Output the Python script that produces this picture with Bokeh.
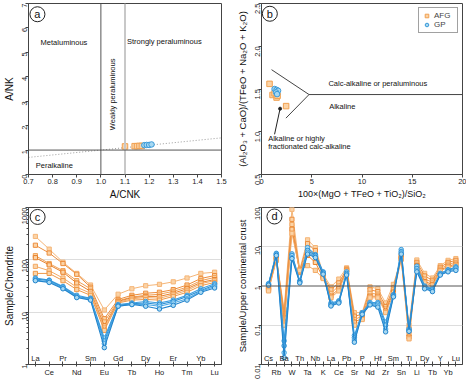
import math
from bokeh.plotting import figure
from bokeh.layouts import row, column
from bokeh.models import FixedTicker, Span, Range1d
from bokeh.core.properties import value
from bokeh.embed import file_html
from bokeh.resources import INLINE

FONT = "Liberation Sans"
AXC = "#444444"

# ---------------- data ----------------
# panel a : A/CNK vs A/NK
a_afg_x = [1.10, 1.14, 1.15, 1.16, 1.17]
a_afg_y = [1.15, 1.16, 1.16, 1.17, 1.17]
a_gp_x = [1.18, 1.19, 1.20, 1.21]
a_gp_y = [1.20, 1.21, 1.21, 1.23]
a_ref_x = [0.7, 1.5]          # A/NK = A/CNK
a_ref_y = [0.7, 1.5]

# panel b
b_afg_x = [0.8, 1.1, 1.3, 1.5, 1.6, 2.45]
b_afg_y = [1.56, 1.43, 1.45, 1.40, 1.42, 1.30]
b_gp_x = [1.3, 1.5, 1.65, 1.45, 1.55]
b_gp_y = [1.50, 1.49, 1.48, 1.46, 1.44]
b_bound_x = [1.0, 4.73, 2.43]
b_bound_y = [1.726, 1.435, 1.159]
b_hline_x = [4.73, 20.0]
b_hline_y = [1.435, 1.435]
b_arrow_x = [1.3, 1.85]
b_arrow_y = [0.97, 1.27]

# panel c : chondrite-normalised REE
ree = ["La", "Ce", "Pr", "Nd", "Sm", "Eu", "Gd", "Tb", "Dy", "Ho", "Er", "Tm", "Yb", "Lu"]
c_afg = [
    [280, 160, 90, 55, 33, 11, 22, 28, 32, 34, 38, 45, 55, 58],
    [190, 135, 85, 53, 30, 7.5, 17.5, 21, 23, 24, 27, 33, 44, 50],
    [120, 85, 62, 40, 28, 6.5, 16.5, 19.5, 21, 22, 25, 30, 40, 46],
    [110, 80, 58, 36, 25, 5.5, 16, 19, 20, 20, 23, 28, 37, 42],
    [75, 62, 45, 30, 23, 5.0, 15.5, 18, 19, 18.5, 21.5, 26, 35, 40],
    [55, 55, 40, 27, 21, 4.5, 15, 17, 17.5, 17, 20, 24, 32, 37],
]
c_gp = [
    [45, 41, 31, 21, 18.5, 3.2, 14, 15, 16, 15, 17, 21, 28, 35],
    [43, 40, 30, 20, 18, 2.8, 13.5, 14.5, 15, 14, 16, 20, 26, 33],
    [41, 38, 29, 19.5, 17.5, 2.5, 13, 14, 14, 13, 15, 18, 25, 31],
    [40, 37, 28, 19, 17, 2.1, 13, 14, 13, 11.5, 13.5, 17, 24, 29],
]

# panel d : upper-continental-crust normalised spider
elem = ["Cs", "Rb", "Ba", "W", "Th", "Ta", "Nb", "K", "La", "Ce", "Pb", "Sr", "P",
        "Nd", "Hf", "Zr", "Sm", "Sn", "Ti", "Li", "Dy", "Tb", "Y", "Yb", "Lu"]
d_afg = [
    [0.95, 5.0, 0.25, 90, 2.6, 15, 9.5, 2.0, 0.95, 1.5, 2.9, 0.21, 0.21, 0.95, 0.85, 0.37, 1.1, 5.0, 0.10, 4.6, 2.1, 1.6, 3.3, 4.5, 5.0],
    [0.90, 5.5, 0.20, 50, 2.4, 12, 8.0, 1.8, 0.80, 1.2, 2.7, 0.17, 0.19, 0.80, 0.72, 0.30, 0.9, 5.5, 0.08, 4.0, 1.8, 1.4, 3.0, 4.0, 4.5],
    [0.85, 5.2, 0.15, 37, 2.2, 9.0, 6.0, 1.7, 0.65, 1.0, 2.6, 0.14, 0.17, 0.65, 0.62, 0.26, 0.8, 6.0, 0.06, 3.6, 1.5, 1.25, 2.7, 3.6, 4.0],
    [0.80, 4.8, 0.12, 28, 2.3, 6.0, 4.0, 1.6, 0.55, 0.85, 2.5, 0.12, 0.15, 0.55, 0.55, 0.23, 0.7, 5.0, 0.05, 3.3, 1.3, 1.1, 2.5, 3.2, 3.6],
    [0.75, 4.5, 0.10, 22, 2.5, 3.3, 2.5, 1.55, 0.50, 0.75, 2.4, 0.10, 0.14, 0.50, 0.50, 0.21, 0.6, 4.8, 0.045, 3.0, 1.2, 1.0, 2.4, 3.0, 3.3],
]
d_gp = [
    [1.15, 6.8, 0.040, 6.6, 1.35, 9.5, 6.3, 2.3, 0.37, 0.42, 2.3, 0.055, 0.21, 0.38, 0.38, 0.12, 0.60, 8.5, 0.080, 3.2, 1.00, 0.85, 2.1, 2.6, 3.1],
    [1.10, 6.5, 0.030, 6.0, 1.30, 8.0, 6.0, 2.2, 0.34, 0.40, 2.1, 0.048, 0.20, 0.35, 0.35, 0.10, 0.58, 7.5, 0.075, 2.8, 0.95, 0.80, 2.0, 2.5, 2.9],
    [1.10, 6.3, 0.020, 5.3, 1.25, 7.2, 5.6, 2.1, 0.32, 0.38, 2.0, 0.042, 0.19, 0.34, 0.32, 0.08, 0.55, 7.0, 0.072, 2.5, 0.90, 0.75, 1.95, 2.4, 2.7],
    [1.05, 6.0, 0.015, 5.0, 1.20, 6.5, 5.3, 2.0, 0.31, 0.37, 1.9, 0.037, 0.19, 0.33, 0.29, 0.068, 0.53, 6.5, 0.070, 2.3, 0.85, 0.72, 1.9, 2.3, 2.5],
]

ORANGE_LINES = ["#f5b577", "#ec8d3c", "#f0a055", "#e8812a", "#f3aa66", "#ee9848"]
BLUE_LINES = ["#3d9ee0", "#2b8fd4", "#4aa8e6", "#2284cc"]
O_FILL, O_EDGE = "#fbd3a6", "#f0a050"
B_FILL, B_EDGE = "#a6d8f2", "#3a9ad9"


def style(p, xlabel, ylabel):
    p.outline_line_color = AXC
    p.outline_line_width = 1
    p.xaxis.axis_label = xlabel
    p.yaxis.axis_label = ylabel
    for ax in p.axis:
        ax.axis_line_color = AXC
        ax.major_tick_line_color = AXC
        ax.minor_tick_line_color = None
        ax.major_tick_in = 0
        ax.major_tick_out = 3
        ax.major_label_standoff = 1
        ax.axis_label_standoff = 2
        ax.major_label_text_font = FONT
        ax.major_label_text_font_size = "7.5px"
        ax.major_label_text_color = "#222222"
        ax.axis_label_text_font = FONT
        ax.axis_label_text_font_size = "10px"
        ax.axis_label_text_font_style = "normal"
        ax.axis_label_text_color = "#111111"
    p.yaxis.major_label_orientation = math.pi / 2
    p.xgrid.visible = False
    p.ygrid.visible = False
    p.background_fill_color = "white"
    p.border_fill_color = "white"


def txt(p, x, y, s, align="left", size="7.5px", angle=0.0, baseline="middle"):
    p.text(x=[x], y=[y], text=[s], text_align=align, text_baseline=baseline,
           angle=angle, text_font=value(FONT), text_font_size=size, text_color="#111111")


def tag(p, x, y, letter):
    p.scatter([x], [y], marker="circle", size=15, fill_color="white",
              line_color="#222222", line_width=1)
    p.text(x=[x], y=[y], text=[letter], text_align="center", text_baseline="middle",
           text_font=value(FONT), text_font_size="11px", text_color="#111111")


# ---------------- panel a ----------------
pa = figure(width=233, height=202, x_range=Range1d(0.7, 1.5), y_range=Range1d(0, 7),
            output_backend="svg", toolbar_location=None,
            min_border_left=24, min_border_right=12, min_border_top=3, min_border_bottom=27)
style(pa, "A/CNK", "A/NK")
pa.xaxis.ticker = FixedTicker(ticks=[0.7, 0.8, 0.9, 1.0, 1.1, 1.2, 1.3, 1.4, 1.5])
pa.xaxis.major_label_overrides = {0.7: "0.7", 0.8: "0.8", 0.9: "0.9", 1.0: "1.0", 1.1: "1.1",
                                  1.2: "1.2", 1.3: "1.3", 1.4: "1.4", 1.5: "1.5"}
pa.yaxis.ticker = FixedTicker(ticks=[0, 1, 2, 3, 4, 5, 6, 7])
pa.add_layout(Span(location=1.1, dimension="height", line_color="#c8c8c8", line_width=2))
pa.add_layout(Span(location=1.0, dimension="height", line_color="#555555", line_width=1))
pa.add_layout(Span(location=1.0, dimension="width", line_color="#555555", line_width=1))
pa.line(a_ref_x, a_ref_y, line_color="#999999", line_dash="1 2", line_width=1)
txt(pa, 0.847, 5.39, "Metaluminous", align="center")
txt(pa, 1.263, 5.43, "Strongly peraluminous", align="center")
txt(pa, 1.049, 3.28, "Weakly peraluminous", align="center", angle=math.pi / 2)
txt(pa, 0.73, 0.35, "Peralkaline")
pa.scatter(a_afg_x, a_afg_y, marker="square", size=5.5, fill_color=O_FILL, line_color=O_EDGE)
pa.scatter(a_gp_x, a_gp_y, marker="circle", size=5.5, fill_color=B_FILL, line_color=B_EDGE)
tag(pa, 0.737, 6.56, "a")

# ---------------- panel b ----------------
pb = figure(width=233, height=202, x_range=Range1d(0, 20), y_range=Range1d(0.5, 2.5),
            output_backend="svg", toolbar_location=None,
            min_border_left=28, min_border_right=4, min_border_top=3, min_border_bottom=27)
style(pb, "100×(MgO + TFeO + TiO₂)/SiO₂", "(Al₂O₃ + CaO)/(TFeO + Na₂O + K₂O)")
pb.yaxis.axis_label_text_font_size = "9.5px"
pb.xaxis.axis_label_text_font_size = "9px"
pb.xaxis.ticker = FixedTicker(ticks=[0, 5, 10, 15, 20])
pb.yaxis.ticker = FixedTicker(ticks=[0.5, 1.0, 1.5, 2.0, 2.5])
pb.yaxis.major_label_overrides = {0.5: "0.5", 1.0: "1.0", 1.5: "1.5", 2.0: "2.0", 2.5: "2.5"}
pb.line(b_bound_x, b_bound_y, line_color="#444444", line_width=1)
pb.line(b_hline_x, b_hline_y, line_color="#444444", line_width=1)
pb.line(b_arrow_x, b_arrow_y, line_color="#222222", line_width=1)
pb.scatter([b_arrow_x[1]], [b_arrow_y[1]], marker="circle", size=3, fill_color="#222222", line_color="#222222")
txt(pb, 6.66, 1.57, "Calc-alkaline or peraluminous")
txt(pb, 6.73, 1.30, "Alkaline")
txt(pb, 0.66, 0.925, "Alkaline or highly")
txt(pb, 0.66, 0.83, "fractionated calc-alkaline")
pb.scatter(b_afg_x, b_afg_y, marker="square", size=5.5, fill_color=O_FILL, line_color=O_EDGE,
           legend_label="AFG")
pb.scatter(b_gp_x, b_gp_y, marker="circle", size=5.5, fill_color=B_FILL, line_color=B_EDGE,
           legend_label="GP")
pb.legend.location = "top_right"
pb.legend.label_text_font = FONT
pb.legend.label_text_font_size = "8px"
pb.legend.glyph_width = 9
pb.legend.glyph_height = 9
pb.legend.label_height = 9
pb.legend.spacing = 0
pb.legend.padding = 3
pb.legend.margin = 4
pb.legend.label_standoff = 3
pb.legend.border_line_color = "#444444"
pb.legend.background_fill_alpha = 1
tag(pb, 0.83, 2.38, "b")

# ---------------- panel c ----------------
pc = figure(width=233, height=177, x_range=Range1d(-0.5, 13.5), y_range=Range1d(1, 1000),
            y_axis_type="log", output_backend="svg", toolbar_location=None,
            min_border_left=24, min_border_right=12, min_border_top=5, min_border_bottom=12)
style(pc, "", "Sample/Chondrite")
pc.xaxis.axis_label = None
pc.yaxis.ticker = FixedTicker(ticks=[1, 10, 100, 1000],
                              minor_ticks=[2, 3, 4, 5, 6, 7, 8, 9, 20, 30, 40, 50, 60, 70, 80, 90,
                                           200, 300, 400, 500, 600, 700, 800, 900])
pc.yaxis.major_label_overrides = {1: "1", 10: "10", 100: "100", 1000: "1000"}
pc.yaxis.minor_tick_line_color = AXC
pc.yaxis.minor_tick_out = 2
pc.yaxis.minor_tick_in = 0
pc.xaxis.ticker = FixedTicker(ticks=list(range(len(ree))))
pc.xaxis.major_label_overrides = {i: (ree[i] if i % 2 == 1 else "") for i in range(len(ree))}
pc.xaxis.major_tick_in = 3
pc.xaxis.major_tick_out = 2
pc.ygrid.visible = True
pc.ygrid.ticker = FixedTicker(ticks=[10, 100])
pc.ygrid.grid_line_color = "#dddddd"
xs_c = list(range(len(ree)))
for i, s in enumerate(c_afg):
    col = ORANGE_LINES[i % len(ORANGE_LINES)]
    pc.line(xs_c, s, line_color=col, line_width=1.0)
    pc.scatter(xs_c, s, marker="square", size=4.2, fill_color=O_FILL, line_color=col)
for i, s in enumerate(c_gp):
    col = BLUE_LINES[i % len(BLUE_LINES)]
    pc.line(xs_c, s, line_color=col, line_width=1.1)
    pc.scatter(xs_c, s, marker="circle", size=4.5, fill_color=B_FILL, line_color=col)
in_c = [i for i in range(len(ree)) if i % 2 == 0]
pc.text(x=in_c, y=[1.08] * len(in_c), text=[ree[i] for i in in_c], text_align="center",
        text_baseline="bottom", text_font=value(FONT), text_font_size="7.5px", text_color="#222222")
tag(pc, 0.16, 660, "c")

# ---------------- panel d ----------------
pd = figure(width=233, height=177, x_range=Range1d(-0.9, 24.85), y_range=Range1d(0.01, 100),
            y_axis_type="log", output_backend="svg", toolbar_location=None,
            min_border_left=28, min_border_right=4, min_border_top=5, min_border_bottom=12)
style(pd, "", "Sample/Upper continental crust")
pd.yaxis.axis_label_text_font_size = "9.5px"
pd.xaxis.axis_label = None
pd.yaxis.ticker = FixedTicker(ticks=[0.01, 0.1, 1, 10, 100])
pd.yaxis.major_label_overrides = {0.01: "0.01", 0.1: "0.1", 1: "1", 10: "10", 100: "100"}
pd.xaxis.ticker = FixedTicker(ticks=list(range(len(elem))))
pd.xaxis.major_label_overrides = {i: (elem[i] if i % 2 == 1 else "") for i in range(len(elem))}
pd.xaxis.major_tick_in = 3
pd.xaxis.major_tick_out = 2
pd.ygrid.visible = True
pd.ygrid.ticker = FixedTicker(ticks=[0.1, 10])
pd.ygrid.grid_line_color = "#dddddd"
pd.add_layout(Span(location=1, dimension="width", line_color="#555555", line_width=1))
xs_d = list(range(len(elem)))
for i, s in enumerate(d_afg):
    col = ORANGE_LINES[i % len(ORANGE_LINES)]
    pd.line(xs_d, s, line_color=col, line_width=1.0)
    pd.scatter(xs_d, s, marker="square", size=4.2, fill_color=O_FILL, line_color=col)
for i, s in enumerate(d_gp):
    col = BLUE_LINES[i % len(BLUE_LINES)]
    pd.line(xs_d, s, line_color=col, line_width=1.1)
    pd.scatter(xs_d, s, marker="circle", size=4.5, fill_color=B_FILL, line_color=col)
in_d = [i for i in range(len(elem)) if i % 2 == 0]
pd.text(x=in_d, y=[0.0112] * len(in_d), text=[elem[i] for i in in_d], text_align="center",
        text_baseline="bottom", text_font=value(FONT), text_font_size="7.5px", text_color="#222222")
tag(pd, 0.76, 59, "d")

layout = column(row(pa, pb), row(pc, pd))
open("out.html", "w").write(file_html(layout, INLINE))
